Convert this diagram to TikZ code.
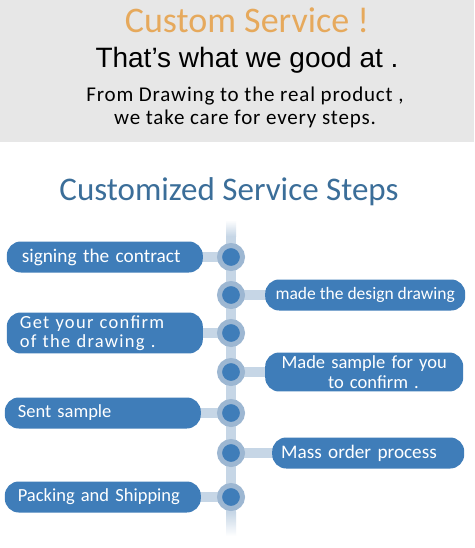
\documentclass[tikz,border=0pt]{standalone}
\usepackage{fontspec}
\setmainfont{Carlito}
\newfontfamily\headfont{Liberation Sans}
\usepackage{xcolor}
\usetikzlibrary{positioning,backgrounds}

\definecolor{bandgray}{HTML}{E7E7E7}
\definecolor{headorange}{HTML}{E6A95C}
\definecolor{titleblue}{HTML}{3B6E99}
\definecolor{stepblue}{HTML}{3F7DB9}
\definecolor{ringblue}{HTML}{9DB7D2}
\definecolor{lineblue}{HTML}{C6D6E6}

\begin{document}
\begin{tikzpicture}[
  x=1pt, y=-1pt,
  lbox/.style={fill=stepblue, rounded corners=14pt, minimum height=31pt,
               text width=170pt, inner xsep=13pt, inner ysep=3pt, align=left,
               text=white, font=\fontsize{18.5}{20}\selectfont},
  rbox/.style={lbox, text width=182pt, inner xsep=9pt},
  dot/.style={circle, draw=ringblue, line width=5pt, fill=stepblue,
              minimum size=23pt, inner sep=0pt},
  link/.style={lineblue, line width=10pt}
]
  % heading
  \node[anchor=base, text=headorange, font=\fontsize{36}{36}\selectfont]
    (head) at (247,33) {Custom Service !};
  \node[anchor=base, font=\headfont\fontsize{28}{28}\selectfont]
    (sub) at (247,68) {That’s what we good at .};
  \node[anchor=base, font=\fontsize{21}{21}\selectfont\addfontfeature{LetterSpace=4}]
    (line1) at (245,102) {From Drawing to the real product ,};
  \node[anchor=base, font=\fontsize{21}{21}\selectfont\addfontfeature{LetterSpace=4}]
    (line2) at (245,125) {we take care for every steps.};
  \node[anchor=base, text=titleblue, font=\fontsize{33}{33}\selectfont]
    (title) at (229,200) {Customized Service Steps};

  % steps on the spine
  \node[dot] (c1) at (231,257) {};
  \node[dot] (c2) at (231,295) {};
  \node[dot] (c3) at (231,333) {};
  \node[dot] (c4) at (231,372) {};
  \node[dot] (c5) at (231,413) {};
  \node[dot] (c6) at (231,453) {};
  \node[dot] (c7) at (231,497) {};

  \node[lbox, left=14pt of c1, font=\fontsize{19.3}{20}\selectfont,
        inner xsep=15pt, text width=166pt] (s1) {signing the contract};
  \node[rbox, right=20pt of c2, text width={}, minimum width=200pt, inner xsep=4pt,
        font=\fontsize{17.5}{20}\selectfont] (s2) {made the design drawing};
  \node[lbox, left=14pt of c3, font=\fontsize{18.5}{19}\selectfont\addfontfeature{LetterSpace=7}]
    (s3) {Get your confirm\\of the drawing .};
  \node[rbox, right=20pt of c4, align=center, text width=180pt] (s4) {Made sample for you\\\quad to confirm .};
  \node[lbox, left=16pt of c5] (s5) {Sent sample};
  \node[rbox, right=27pt of c6, text width=174pt, font=\fontsize{19.2}{20}\selectfont] (s6) {Mass order process};
  \node[lbox, left=16pt of c7] (s7) {Packing and Shipping};

  \begin{scope}[on background layer]
    \fill[white] (0,0) rectangle (474,548);
    \fill[bandgray] (0,0) rectangle (474,142);
    % spine with faded ends
    \fill[lineblue] (226,236) rectangle (236,512);
    \shade[top color=white, bottom color=lineblue] (226,220) rectangle (236,236);
    \shade[top color=lineblue, bottom color=white] (226,512) rectangle (236,536);
    \foreach \i in {1,...,7}
      \draw[link] (s\i.center) -- (c\i.center);
  \end{scope}
\end{tikzpicture}
\end{document}
